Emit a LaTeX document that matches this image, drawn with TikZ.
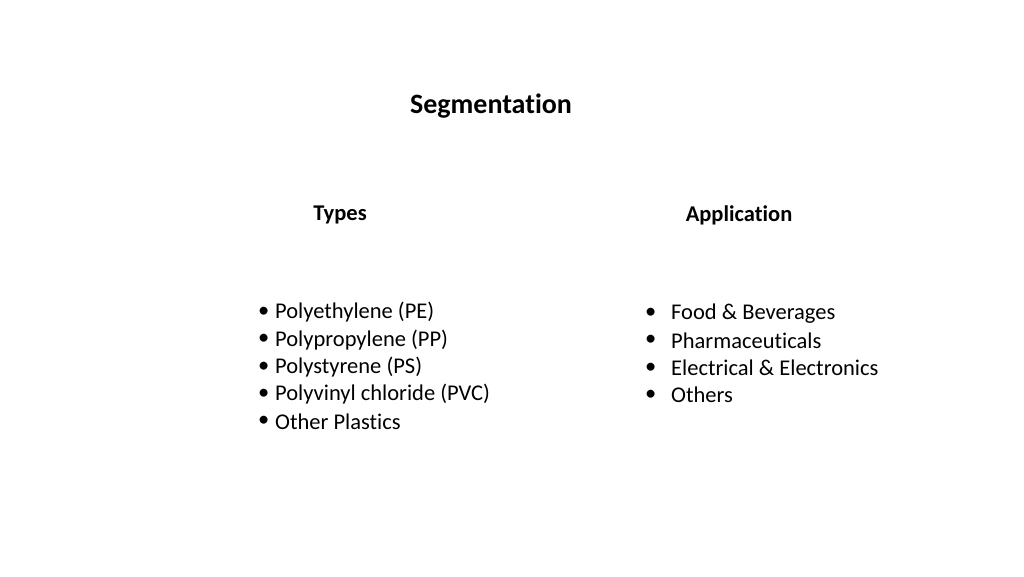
\documentclass[tikz,border=0pt]{standalone}
\usepackage{fontspec}
\setmainfont[RawFeature={-liga;-dlig}]{Carlito}
\begin{document}
\begin{tikzpicture}[x=1pt,y=-1pt,
  head/.style={font=\fontsize{28}{32}\selectfont\bfseries},
  sub/.style={font=\fontsize{22.5}{26}\selectfont\bfseries},
  item/.style={font=\fontsize{22.5}{26}\selectfont,anchor=west,inner sep=0pt}]
\useasboundingbox[fill=white] (0,0) rectangle (1024,576);
\node[head] (title) at (491,106) {Segmentation};
\node[sub] (types) at (340,215) {Types};
\node[sub] (app) at (739,215) {Application};
\foreach \t [count=\i] in {Polyethylene (PE),Polypropylene (PP),Polystyrene (PS),Polyvinyl chloride (PVC),Other Plastics}{
  \node[item] (lb\i) at (258,{285+27.3*\i}) {•};
  \node[item] (l\i) at (275,{285+27.3*\i}) {\t};
}
\foreach \t [count=\i] in {Food \& Beverages,Pharmaceuticals,Electrical \& Electronics,Others}{
  \node[item] (rb\i) at (645,{286+27.3*\i}) {•};
  \node[item] (r\i) at (671,{286+27.3*\i}) {\t};
}
\end{tikzpicture}
\end{document}
